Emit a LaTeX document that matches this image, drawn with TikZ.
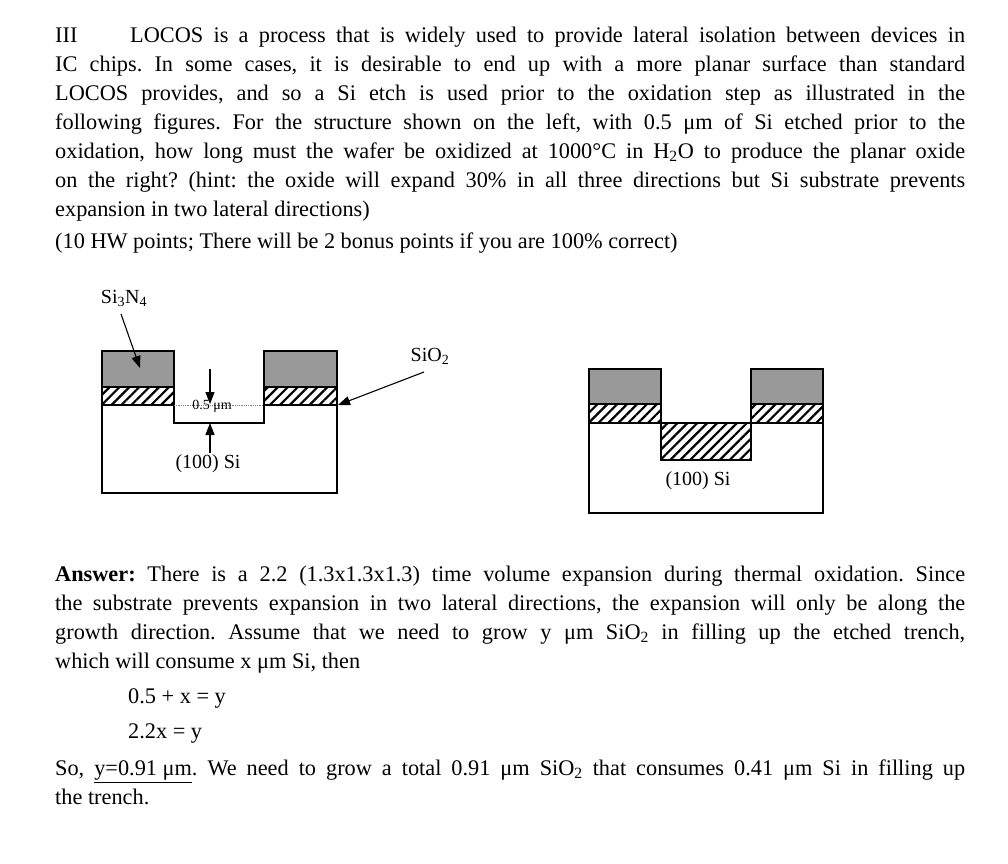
\documentclass[tikz,border=0pt]{standalone}
\usepackage{fontspec}
\setmainfont{Liberation Serif}
\usetikzlibrary{patterns.meta,arrows.meta}
\begin{document}
\frenchspacing
\begin{tikzpicture}[x=1pt,y=-1pt,
  nitride/.style={draw,line width=1.1pt,fill=gray!80},
  oxide/.style={draw,line width=1.1pt,pattern={Lines[angle=45,distance=7pt,line width=2.2pt]},pattern color=black},
  sub/.style={draw,line width=1.1pt},
  lbl/.style={inner sep=0pt,font=\fontsize{20}{22}\selectfont},
  arr/.style={-{Triangle[length=12pt,width=9pt]},line width=1.1pt},
  para/.style={anchor=north west,inner sep=0pt,text width=910pt,align=justify,font=\fontsize{22.3}{29}\selectfont}]
\useasboundingbox (0,0) rectangle (1008,863);
\node[para] (p1) at (55,27) {\makebox[75pt][l]{III}LOCOS is a process that is widely used to provide lateral isolation between devices in\linebreak
IC chips. In some cases, it is desirable to end up with a more planar surface than standard\linebreak
LOCOS provides, and so a Si etch is used prior to the oxidation step as illustrated in the\linebreak
following figures. For the structure shown on the left, with 0.5 μm of Si etched prior to the\linebreak
oxidation, how long must the wafer be oxidized at 1000°C in H\textsubscript{2}O to produce the planar oxide\linebreak
on the right? (hint: the oxide will expand 30\% in all three directions but Si substrate prevents\linebreak
expansion in two lateral directions)\par
\vspace{3pt}(10 HW points; There will be 2 bonus points if you are 100\% correct)};
% left figure
\draw[sub] (102,387) -- (102,493) -- (337,493) -- (337,405) -- (264,405) -- (264,423) -- (174,423) -- (174,405) -- (102,405);
\draw[oxide] (102,387) rectangle (174,405);
\draw[oxide] (264,387) rectangle (337,405);
\draw[nitride] (102,351) rectangle (174,387);
\draw[nitride] (264,351) rectangle (337,387);
\draw[densely dotted,gray,line width=0.8pt] (174,405) -- (264,405);
\node[lbl,font=\fontsize{14}{16}\selectfont] (d) at (212,406) {0.5 μm};
\coordinate (dt) at (210,369);
\coordinate (dtt) at (210,404);
\coordinate (ub) at (210,453);
\coordinate (ut) at (210,423);
\draw[arr] (dt) -- (dtt);
\draw[arr] (ub) -- (ut);
\node[lbl] (si1) at (208,464) {(100) Si};
\node[lbl] (nit) at (124,298) {Si\textsubscript{3}N\textsubscript{4}};
\coordinate (nt) at (140,368);
\draw[arr] (121,314) -- (nt);
\node[lbl] (ox) at (430,356) {SiO\textsubscript{2}};
\coordinate (ot) at (338,405);
\draw[arr] (424,372) -- (ot);
% right figure
\draw[sub] (589,423) rectangle (823,513);
\draw[oxide] (589,404) rectangle (661,423);
\draw[oxide] (751,404) rectangle (823,423);
\draw[oxide] (661,423) rectangle (751,460);
\draw[nitride] (589,369) rectangle (661,404);
\draw[nitride] (751,369) rectangle (823,404);
\node[lbl] (si2) at (698,481) {(100) Si};
% answer
\node[para] (p2) at (55,566) {\textbf{Answer:} There is a 2.2 (1.3x1.3x1.3) time volume expansion during thermal oxidation. Since\linebreak
the substrate prevents expansion in two lateral directions, the expansion will only be along the\linebreak
growth direction. Assume that we need to grow y μm SiO\textsubscript{2} in filling up the etched trench,\linebreak
which will consume x μm Si, then\par
\vspace{6pt}\hspace*{73pt}0.5 + x = y\par
\vspace{6pt}\hspace*{73pt}2.2x = y\par
\vspace{8pt}So, \underline{y=0.91 μm}. We need to grow a total 0.91 μm SiO\textsubscript{2} that consumes 0.41 μm Si in filling up\linebreak
the trench.};
\end{tikzpicture}
\end{document}
